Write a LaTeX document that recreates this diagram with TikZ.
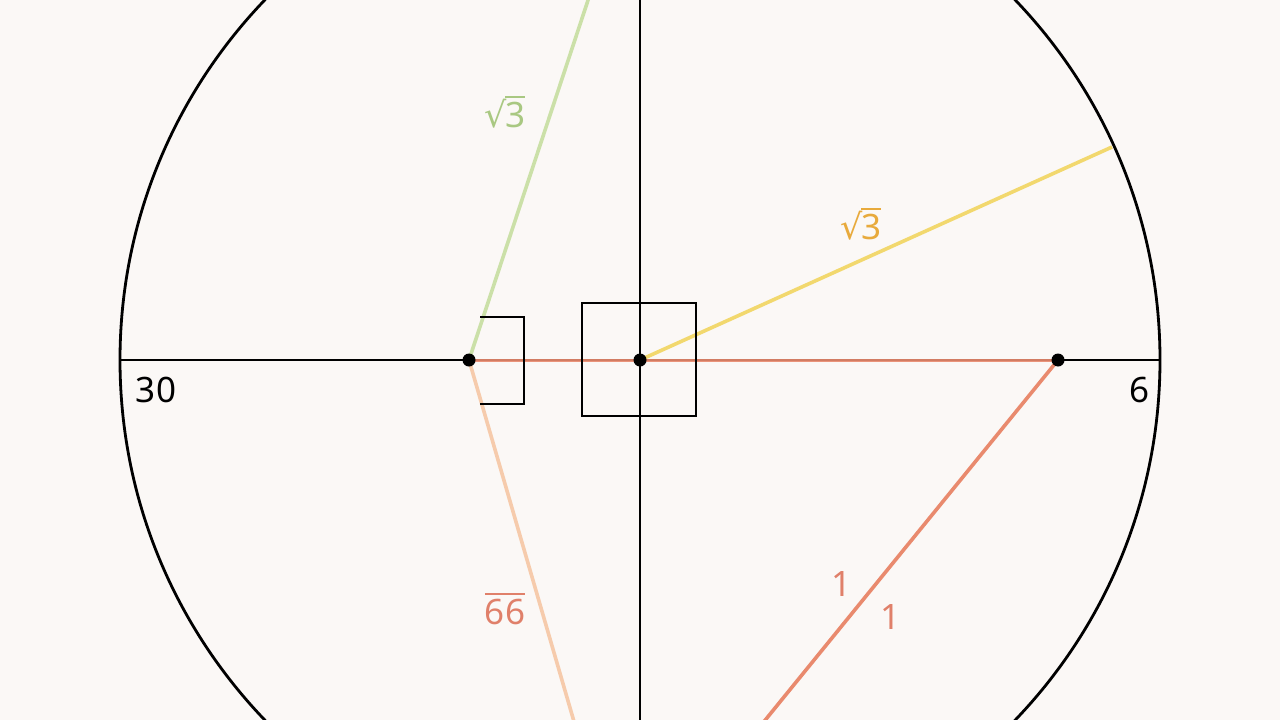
\documentclass[tikz,border=0pt]{standalone}
\usepackage{fontspec}
\setmainfont{Noto Sans}
\newfontfamily\symf{DejaVu Sans}
\newcommand{\myroot}[1]{{\symf √}\kern-0.06em\vbox{\hrule height 0.06em\kern0.1em\hbox{#1}}}
\newcommand{\mybar}[1]{\vbox{\hrule height 0.06em\kern0.12em\hbox{#1}}}
\begin{document}
\begin{tikzpicture}[x=1pt,y=-1pt,
  axis/.style={line width=2.8pt,black},
  seg/.style={line width=3.6pt},
  lbl/.style={font=\fontsize{35}{40}\selectfont,inner sep=0pt},
  dot/.style={fill=black,draw=none}]
\definecolor{bg}{HTML}{FBF8F6}
\definecolor{gline}{HTML}{CBE0A8}
\definecolor{gtext}{HTML}{A9C882}
\definecolor{yline}{HTML}{F2D86E}
\definecolor{ytext}{HTML}{E8AA3C}
\definecolor{pline}{HTML}{F6CBAC}
\definecolor{rline}{HTML}{E98A6E}
\definecolor{rtext}{HTML}{E0806A}
\useasboundingbox (0,0) rectangle (1280,720);
\fill[bg] (0,0) rectangle (1280,720);
\clip (0,0) rectangle (1280,720);
\coordinate (O) at (640,360);
\coordinate (A) at (469,360);
\coordinate (B) at (1058,360);
\coordinate (L) at (120,360);
\coordinate (R) at (1160,360);
\coordinate (T) at (640,-170);
\coordinate (D) at (640,890);
\coordinate (G) at (600,-36);
\coordinate (P) at (584,756);
\coordinate (Y) at (1112,147);
\coordinate (Q) at (736,756);
% coloured segments
\draw[seg,gline] (A) -- (G);
\draw[seg,pline] (A) -- (P);
\draw[seg,yline] (O) -- (Y);
\draw[seg,rline] (B) -- (Q);
% circle and axes
\draw[axis] (O) circle[radius=520];
\draw[axis] (L) -- (R);
\draw[axis] (T) -- (D);
\draw[line width=3pt,rline,opacity=0.9] (A) -- (B);
% right-angle marks
\draw[line width=2.6pt] (480,317) -- (524,317) -- (524,404) -- (480,404);
\draw[line width=2.6pt] (582,303) rectangle (696,416);
% dots
\fill[dot] (A) circle[radius=6.5];
\fill[dot] (O) circle[radius=6.5];
\fill[dot] (B) circle[radius=6.5];
% labels
\node[lbl,text=gtext] (l1) at (505,112) {\myroot{3}};
\node[lbl,text=ytext] (l2) at (861,224) {\myroot{3}};
\node[lbl,text=rtext] (l3) at (505,609) {\mybar{66}};
\node[lbl,text=rtext] (l4) at (842,584) {1};
\node[lbl,text=rtext] (l5) at (890,617) {1};
\node[lbl] (l6) at (156,390) {30};
\node[lbl] (l7) at (1139,390) {6};
\end{tikzpicture}
\end{document}
